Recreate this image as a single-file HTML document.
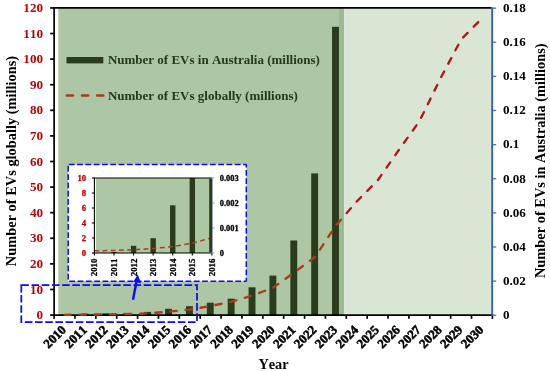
<!DOCTYPE html>
<html lang="en"><head><meta charset="utf-8"><title>EV numbers chart</title>
<style>html,body{margin:0;padding:0;background:#fff;}svg{display:block;}text{font-family:"Liberation Serif", "DejaVu Serif", serif;font-weight:bold;font-kerning:none;}</style>
</head><body>
<svg width="550" height="371" viewBox="0 0 550 371">
<rect x="0" y="0" width="550" height="371" fill="#ffffff"/>
<rect x="58.3" y="8" width="280.70" height="307.05" fill="#adc6a3"/>
<rect x="339.0" y="8" width="5.2" height="307.05" fill="#9dbb92"/>
<rect x="344.2" y="8" width="148.20" height="307.05" fill="#dae6d4"/>
<rect x="81.61" y="313.60" width="6.90" height="1.45" fill="#2a3c1b"/>
<rect x="102.48" y="313.30" width="6.90" height="1.75" fill="#2a3c1b"/>
<rect x="123.35" y="312.90" width="6.90" height="2.15" fill="#2a3c1b"/>
<rect x="144.22" y="311.90" width="6.90" height="3.15" fill="#2a3c1b"/>
<rect x="165.09" y="308.80" width="6.90" height="6.25" fill="#2a3c1b"/>
<rect x="185.96" y="306.20" width="6.90" height="8.85" fill="#2a3c1b"/>
<rect x="206.84" y="302.70" width="6.90" height="12.35" fill="#2a3c1b"/>
<rect x="227.71" y="298.70" width="6.90" height="16.35" fill="#2a3c1b"/>
<rect x="248.58" y="287.30" width="6.90" height="27.75" fill="#2a3c1b"/>
<rect x="269.45" y="275.60" width="6.90" height="39.45" fill="#2a3c1b"/>
<rect x="290.32" y="240.50" width="6.90" height="74.55" fill="#2a3c1b"/>
<rect x="311.19" y="173.40" width="6.90" height="141.65" fill="#2a3c1b"/>
<rect x="332.06" y="26.80" width="6.90" height="288.25" fill="#2a3c1b"/>
<g stroke="#000" stroke-width="1.7" fill="none">
<path d="M53.30 7.95 H491.60"/>
<path d="M54.10 7.15 V318.85"/>
<path d="M53.30 315.05 H493.20"/>
<path d="M50.10 315.05 H54.10"/>
<path d="M50.10 289.46 H54.10"/>
<path d="M50.10 263.87 H54.10"/>
<path d="M50.10 238.28 H54.10"/>
<path d="M50.10 212.68 H54.10"/>
<path d="M50.10 187.09 H54.10"/>
<path d="M50.10 161.50 H54.10"/>
<path d="M50.10 135.91 H54.10"/>
<path d="M50.10 110.32 H54.10"/>
<path d="M50.10 84.72 H54.10"/>
<path d="M50.10 59.13 H54.10"/>
<path d="M50.10 33.54 H54.10"/>
<path d="M50.10 7.95 H54.10"/>
<path d="M74.97 315.05 V318.85"/>
<path d="M95.84 315.05 V318.85"/>
<path d="M116.71 315.05 V318.85"/>
<path d="M137.59 315.05 V318.85"/>
<path d="M158.46 315.05 V318.85"/>
<path d="M179.33 315.05 V318.85"/>
<path d="M200.20 315.05 V318.85"/>
<path d="M221.07 315.05 V318.85"/>
<path d="M241.94 315.05 V318.85"/>
<path d="M262.81 315.05 V318.85"/>
<path d="M283.69 315.05 V318.85"/>
<path d="M304.56 315.05 V318.85"/>
<path d="M325.43 315.05 V318.85"/>
<path d="M346.30 315.05 V318.85"/>
<path d="M367.17 315.05 V318.85"/>
<path d="M388.04 315.05 V318.85"/>
<path d="M408.91 315.05 V318.85"/>
<path d="M429.79 315.05 V318.85"/>
<path d="M450.66 315.05 V318.85"/>
<path d="M471.53 315.05 V318.85"/>
<path d="M492.40 315.05 V318.85"/>
</g>
<g stroke="#4472c4" stroke-width="1.3" fill="none">
<path d="M492.40 315.25 H496.20"/>
<path d="M492.40 281.13 H496.20"/>
<path d="M492.40 247.01 H496.20"/>
<path d="M492.40 212.88 H496.20"/>
<path d="M492.40 178.76 H496.20"/>
<path d="M492.40 144.64 H496.20"/>
<path d="M492.40 110.52 H496.20"/>
<path d="M492.40 76.39 H496.20"/>
<path d="M492.40 42.27 H496.20"/>
<path d="M492.40 8.15 H496.20"/>
</g>
<path d="M492.20 7.15 V315.85" stroke="#3560a8" stroke-width="1.9" fill="none"/>
<defs><clipPath id="cd"><rect x="0" y="0" width="341.8" height="371"/></clipPath><clipPath id="cl"><rect x="341.8" y="0" width="210" height="371"/></clipPath></defs>
<path d="M64.5 314.8 L85.4 314.6 L106.3 314.4 L127.2 314.1 L148.0 313.4 L168.9 311.6 L189.8 309.6 L210.6 306.0 L231.5 301.7 L252.4 295.5 L273.2 287.7 L294.1 272.5 L315.0 257.0 L335.9 225.5 L356.7 201.5 L377.6 180.5 L398.5 150.5 L419.4 121.2 L440.2 79.0 L461.1 39.5 L482.0 18.2" clip-path="url(#cd)" fill="none" stroke="#aa3c1c" stroke-width="2.35" stroke-dasharray="6.3 8.85" stroke-linecap="round" stroke-linejoin="round"/>
<path d="M64.5 314.8 L85.4 314.6 L106.3 314.4 L127.2 314.1 L148.0 313.4 L168.9 311.6 L189.8 309.6 L210.6 306.0 L231.5 301.7 L252.4 295.5 L273.2 287.7 L294.1 272.5 L315.0 257.0 L335.9 225.5 L356.7 201.5 L377.6 180.5 L398.5 150.5 L419.4 121.2 L440.2 79.0 L461.1 39.5 L482.0 18.2" clip-path="url(#cl)" fill="none" stroke="#b5151d" stroke-width="2.35" stroke-dasharray="6.3 8.85" stroke-linecap="round" stroke-linejoin="round"/>
<g font-size="13.1" fill="#c00000" text-anchor="end">
<text x="43" y="319.10">0</text>
<text x="43" y="293.51">10</text>
<text x="43" y="267.92">20</text>
<text x="43" y="242.33">30</text>
<text x="43" y="216.73">40</text>
<text x="43" y="191.14">50</text>
<text x="43" y="165.55">60</text>
<text x="43" y="139.96">70</text>
<text x="43" y="114.37">80</text>
<text x="43" y="88.77">90</text>
<text x="43" y="63.18">100</text>
<text x="43" y="37.59">110</text>
<text x="43" y="12.00">120</text>
</g>
<g font-size="13.1" fill="#000" text-anchor="start">
<text x="503" y="319.00">0</text>
<text x="503" y="284.88">0.02</text>
<text x="503" y="250.76">0.04</text>
<text x="503" y="216.63">0.06</text>
<text x="503" y="182.51">0.08</text>
<text x="503" y="148.39">0.1</text>
<text x="503" y="114.27">0.12</text>
<text x="503" y="80.14">0.14</text>
<text x="503" y="46.02">0.16</text>
<text x="503" y="11.90">0.18</text>
</g>
<g font-size="12.9" fill="#000" stroke="#000" stroke-width="0.5" text-anchor="end">
<text transform="translate(66.84 330.70) rotate(-45)">2010</text>
<text transform="translate(87.71 330.70) rotate(-45)">2011</text>
<text transform="translate(108.58 330.70) rotate(-45)">2012</text>
<text transform="translate(129.45 330.70) rotate(-45)">2013</text>
<text transform="translate(150.32 330.70) rotate(-45)">2014</text>
<text transform="translate(171.19 330.70) rotate(-45)">2015</text>
<text transform="translate(192.06 330.70) rotate(-45)">2016</text>
<text transform="translate(212.94 330.70) rotate(-45)">2017</text>
<text transform="translate(233.81 330.70) rotate(-45)">2018</text>
<text transform="translate(254.68 330.70) rotate(-45)">2019</text>
<text transform="translate(275.55 330.70) rotate(-45)">2020</text>
<text transform="translate(296.42 330.70) rotate(-45)">2021</text>
<text transform="translate(317.29 330.70) rotate(-45)">2022</text>
<text transform="translate(338.16 330.70) rotate(-45)">2023</text>
<text transform="translate(359.04 330.70) rotate(-45)">2024</text>
<text transform="translate(379.91 330.70) rotate(-45)">2025</text>
<text transform="translate(400.78 330.70) rotate(-45)">2026</text>
<text transform="translate(421.65 330.70) rotate(-45)">2027</text>
<text transform="translate(442.52 330.70) rotate(-45)">2028</text>
<text transform="translate(463.39 330.70) rotate(-45)">2029</text>
<text transform="translate(484.26 330.70) rotate(-45)">2030</text>
</g>
<text font-size="14.4" fill="#000" text-anchor="middle" transform="translate(16.0 161.0) rotate(-90)">Number of EVs globally (millions)</text>
<text font-size="14.4" fill="#000" text-anchor="middle" transform="translate(544.5 160.7) rotate(-90)">Number of EVs in Australia (millions)</text>
<text font-size="14.3" fill="#000" text-anchor="middle" x="273.5" y="369.2">Year</text>
<rect x="66.5" y="57" width="36.8" height="6.4" fill="#2a3c1b"/>
<text font-size="13" fill="#25391a" x="107.9" y="64.3">Number of EVs in Australia (millions)</text>
<path d="M66.8 95.5 H104" stroke="#aa3c1c" stroke-width="2.35" stroke-dasharray="6.3 8.85" stroke-linecap="round" fill="none"/>
<text font-size="13" fill="#25391a" x="107.9" y="99.7">Number of EVs globally (millions)</text>
<rect x="68.2" y="164.5" width="178.10" height="116.80" rx="0.6" fill="#fff"/>
<rect x="95.90" y="178.00" width="116.00" height="75.00" fill="#adc6a3"/>
<rect x="111.28" y="252.00" width="5.40" height="1.00" fill="#2a3c1b"/>
<rect x="130.87" y="245.80" width="5.40" height="7.20" fill="#2a3c1b"/>
<rect x="150.45" y="238.20" width="5.40" height="14.80" fill="#2a3c1b"/>
<rect x="170.03" y="205.30" width="5.40" height="47.70" fill="#2a3c1b"/>
<rect x="189.62" y="178.00" width="5.40" height="75.00" fill="#2a3c1b"/>
<path d="M94.4 250.8 L114.0 250.4 L133.6 249.8 L153.2 248.5 L172.7 246.6 L192.3 243.2 L211.9 237.6" fill="none" stroke="#a5401f" stroke-width="1.5" stroke-dasharray="4.8 3.4"/>
<g stroke="#000" stroke-width="1.1" fill="none">
<path d="M93.90 178.00 H211.90"/>
<path d="M94.40 178.00 V255.50"/>
<path d="M93.90 253.00 H212.40"/>
<path d="M91.90 253.00 H94.40"/>
<path d="M91.90 238.00 H94.40"/>
<path d="M91.90 223.00 H94.40"/>
<path d="M91.90 208.00 H94.40"/>
<path d="M91.90 193.00 H94.40"/>
<path d="M91.90 178.00 H94.40"/>
<path d="M113.98 253.00 V255.50"/>
<path d="M133.57 253.00 V255.50"/>
<path d="M153.15 253.00 V255.50"/>
<path d="M172.73 253.00 V255.50"/>
<path d="M192.32 253.00 V255.50"/>
<path d="M211.90 253.00 V255.50"/>
</g>
<g stroke="#8faadc" stroke-width="1.1" fill="none">
<path d="M211.90 177.50 V253.50"/>
<path d="M211.90 253.00 H214.40"/>
<path d="M211.90 228.00 H214.40"/>
<path d="M211.90 203.00 H214.40"/>
<path d="M211.90 178.00 H214.40"/>
</g>
<rect x="209.20" y="178.50" width="3.10" height="74.00" fill="#2a3c1b"/>
<g font-size="8.7" fill="#c00000" stroke="#c00000" stroke-width="0.3" text-anchor="end">
<text x="86.2" y="255.90">0</text>
<text x="86.2" y="240.90">2</text>
<text x="86.2" y="225.90">4</text>
<text x="86.2" y="210.90">6</text>
<text x="86.2" y="195.90">8</text>
<text x="86.2" y="180.90">10</text>
</g>
<g font-size="8.4" fill="#000" stroke="#000" stroke-width="0.3" text-anchor="start">
<text x="219.8" y="255.90">0</text>
<text x="219.8" y="230.90">0.001</text>
<text x="219.8" y="205.90">0.002</text>
<text x="219.8" y="180.90">0.003</text>
</g>
<g font-size="8.8" fill="#000" stroke="#000" stroke-width="0.3" text-anchor="end">
<text transform="translate(97.40 258.60) rotate(-90)">2010</text>
<text transform="translate(116.98 258.60) rotate(-90)">2011</text>
<text transform="translate(136.57 258.60) rotate(-90)">2012</text>
<text transform="translate(156.15 258.60) rotate(-90)">2013</text>
<text transform="translate(175.73 258.60) rotate(-90)">2014</text>
<text transform="translate(195.32 258.60) rotate(-90)">2015</text>
<text transform="translate(214.90 258.60) rotate(-90)">2016</text>
</g>
<rect x="68.2" y="164.5" width="178.10" height="116.80" rx="0.6" fill="none" stroke="#0a0aff" stroke-width="1.5" stroke-dasharray="5.8 2.5"/>
<rect x="21.3" y="285.0" width="175.70" height="37.10" fill="none" stroke="#0a0aff" stroke-width="1.75" stroke-dasharray="7.6 2.6"/>
<path d="M133 299.8 L136.4 282" stroke="#0a0aff" stroke-width="2.4" fill="none"/>
<path d="M137.8 274.5 L141.0 283.2 L133.3 281.7 Z" fill="#0a0aff"/>
</svg>
</body></html>
